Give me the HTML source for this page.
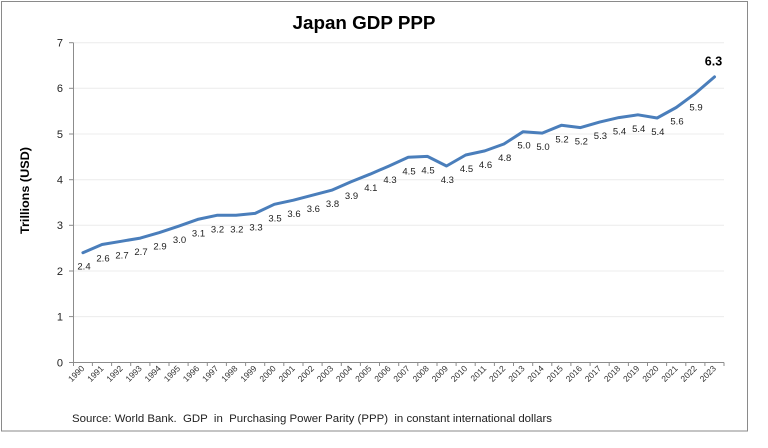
<!DOCTYPE html>
<html><head><meta charset="utf-8"><style>
html,body{margin:0;padding:0;background:#fff;}
svg{display:block;}
text{font-family:"Liberation Sans",sans-serif;}
</style></head><body>
<svg width="768" height="448" viewBox="0 0 768 448" xmlns="http://www.w3.org/2000/svg">
<rect x="0" y="0" width="768" height="448" fill="#fff"/>
<rect x="1.5" y="1.5" width="746" height="429.5" fill="#fff" stroke="#8a8a8a" stroke-width="1"/>
<text x="364" y="29" text-anchor="middle" font-size="18" font-weight="bold" fill="#000" textLength="143" lengthAdjust="spacingAndGlyphs">Japan GDP PPP</text>
<g stroke="#ececec" stroke-width="1">
<line x1="73.5" y1="42.7" x2="724" y2="42.7"/>
<line x1="73.5" y1="88.3" x2="724" y2="88.3"/>
<line x1="73.5" y1="134" x2="724" y2="134"/>
<line x1="73.5" y1="179.7" x2="724" y2="179.7"/>
<line x1="73.5" y1="225.3" x2="724" y2="225.3"/>
<line x1="73.5" y1="271" x2="724" y2="271"/>
<line x1="73.5" y1="316.6" x2="724" y2="316.6"/>
</g>
<g stroke="#8c8c8c" stroke-width="1">
<line x1="73.5" y1="42.7" x2="73.5" y2="362.5"/>
<line x1="73.5" y1="362.5" x2="724" y2="362.5"/>
<line x1="69" y1="42.7" x2="73.5" y2="42.7"/>
<line x1="69" y1="88.3" x2="73.5" y2="88.3"/>
<line x1="69" y1="134" x2="73.5" y2="134"/>
<line x1="69" y1="179.7" x2="73.5" y2="179.7"/>
<line x1="69" y1="225.3" x2="73.5" y2="225.3"/>
<line x1="69" y1="271" x2="73.5" y2="271"/>
<line x1="69" y1="316.6" x2="73.5" y2="316.6"/>
<line x1="69" y1="362.5" x2="73.5" y2="362.5"/>
</g>
<g stroke="#8c8c8c" stroke-width="1" id="xt"></g>
<g font-size="11" fill="#222" text-anchor="end">
<text x="63" y="46.5">7</text>
<text x="63" y="92">6</text>
<text x="63" y="137.8">5</text>
<text x="63" y="183.5">4</text>
<text x="63" y="229">3</text>
<text x="63" y="274.8">2</text>
<text x="63" y="320.4">1</text>
<text x="63" y="366.3">0</text>
</g>
<text transform="translate(29,190.5) rotate(-90)" text-anchor="middle" font-size="12" font-weight="bold" fill="#000" textLength="87" lengthAdjust="spacingAndGlyphs">Trillions (USD)</text>
<polyline fill="none" stroke="#4a7ebb" stroke-width="3" stroke-linejoin="round" stroke-linecap="round" points="82.9,252.7 102.0,244.5 121.2,241.3 140.3,238.1 159.4,232.6 178.6,226.2 197.7,219.4 216.9,215.3 236.0,215.3 255.1,213.4 274.3,204.3 293.4,200.2 312.5,195.2 331.7,190.2 350.8,181.9 370.0,174.2 389.1,166.0 408.2,157.3 427.4,156.4 446.5,166.0 465.7,155.0 484.8,150.9 503.9,144.0 523.1,131.7 542.2,133.1 561.4,125.3 580.5,127.6 599.6,122.1 618.8,117.6 637.9,114.8 657.1,118.0 676.2,107.5 695.3,93.4 714.5,76.9"/>
<g font-size="9.5" fill="#222" text-anchor="middle">
<text x="84" y="269.7">2.4</text>
<text x="103" y="261.5">2.6</text>
<text x="122" y="258.3">2.7</text>
<text x="141" y="255.1">2.7</text>
<text x="160" y="249.6">2.9</text>
<text x="179.5" y="243.2">3.0</text>
<text x="198.5" y="236.4">3.1</text>
<text x="217.5" y="232.3">3.2</text>
<text x="236.8" y="232.3">3.2</text>
<text x="256" y="230.4">3.3</text>
<text x="275" y="221.3">3.5</text>
<text x="294" y="217.2">3.6</text>
<text x="313.3" y="212.2">3.6</text>
<text x="332.5" y="207.2">3.8</text>
<text x="351.5" y="198.9">3.9</text>
<text x="370.8" y="191.2">4.1</text>
<text x="390" y="183">4.3</text>
<text x="409" y="174.3">4.5</text>
<text x="428" y="173.4">4.5</text>
<text x="447.3" y="183">4.3</text>
<text x="466.5" y="172">4.5</text>
<text x="485.5" y="167.9">4.6</text>
<text x="504.7" y="161">4.8</text>
<text x="524" y="148.7">5.0</text>
<text x="543" y="150.1">5.0</text>
<text x="562" y="142.3">5.2</text>
<text x="581.3" y="144.6">5.2</text>
<text x="600.4" y="139.1">5.3</text>
<text x="619.5" y="134.6">5.4</text>
<text x="638.7" y="131.8">5.4</text>
<text x="657.8" y="135">5.4</text>
<text x="677" y="124.5">5.6</text>
<text x="696" y="110.4">5.9</text>
</g>
<text x="713.5" y="65.5" text-anchor="middle" font-size="12.5" font-weight="bold" fill="#000">6.3</text>
<g font-size="8.5" fill="#333" text-anchor="end">
<text transform="translate(85,369) rotate(-45)">1990</text>
<text transform="translate(104.1,369) rotate(-45)">1991</text>
<text transform="translate(123.3,369) rotate(-45)">1992</text>
<text transform="translate(142.4,369) rotate(-45)">1993</text>
<text transform="translate(161.5,369) rotate(-45)">1994</text>
<text transform="translate(180.7,369) rotate(-45)">1995</text>
<text transform="translate(199.8,369) rotate(-45)">1996</text>
<text transform="translate(219,369) rotate(-45)">1997</text>
<text transform="translate(238.1,369) rotate(-45)">1998</text>
<text transform="translate(257.2,369) rotate(-45)">1999</text>
<text transform="translate(276.4,369) rotate(-45)">2000</text>
<text transform="translate(295.5,369) rotate(-45)">2001</text>
<text transform="translate(314.6,369) rotate(-45)">2002</text>
<text transform="translate(333.8,369) rotate(-45)">2003</text>
<text transform="translate(352.9,369) rotate(-45)">2004</text>
<text transform="translate(372.1,369) rotate(-45)">2005</text>
<text transform="translate(391.2,369) rotate(-45)">2006</text>
<text transform="translate(410.3,369) rotate(-45)">2007</text>
<text transform="translate(429.5,369) rotate(-45)">2008</text>
<text transform="translate(448.6,369) rotate(-45)">2009</text>
<text transform="translate(467.8,369) rotate(-45)">2010</text>
<text transform="translate(486.9,369) rotate(-45)">2011</text>
<text transform="translate(506,369) rotate(-45)">2012</text>
<text transform="translate(525.2,369) rotate(-45)">2013</text>
<text transform="translate(544.3,369) rotate(-45)">2014</text>
<text transform="translate(563.5,369) rotate(-45)">2015</text>
<text transform="translate(582.6,369) rotate(-45)">2016</text>
<text transform="translate(601.7,369) rotate(-45)">2017</text>
<text transform="translate(620.9,369) rotate(-45)">2018</text>
<text transform="translate(640,369) rotate(-45)">2019</text>
<text transform="translate(659.2,369) rotate(-45)">2020</text>
<text transform="translate(678.3,369) rotate(-45)">2021</text>
<text transform="translate(697.4,369) rotate(-45)">2022</text>
<text transform="translate(716.6,369) rotate(-45)">2023</text>
</g>
<g stroke="#8c8c8c" stroke-width="1">
<line x1="73.5" y1="362.5" x2="73.5" y2="366"/>
<line x1="92.4" y1="362.5" x2="92.4" y2="366"/>
<line x1="111.6" y1="362.5" x2="111.6" y2="366"/>
<line x1="130.7" y1="362.5" x2="130.7" y2="366"/>
<line x1="149.9" y1="362.5" x2="149.9" y2="366"/>
<line x1="169" y1="362.5" x2="169" y2="366"/>
<line x1="188.1" y1="362.5" x2="188.1" y2="366"/>
<line x1="207.3" y1="362.5" x2="207.3" y2="366"/>
<line x1="226.4" y1="362.5" x2="226.4" y2="366"/>
<line x1="245.6" y1="362.5" x2="245.6" y2="366"/>
<line x1="264.7" y1="362.5" x2="264.7" y2="366"/>
<line x1="283.8" y1="362.5" x2="283.8" y2="366"/>
<line x1="303" y1="362.5" x2="303" y2="366"/>
<line x1="322.1" y1="362.5" x2="322.1" y2="366"/>
<line x1="341.3" y1="362.5" x2="341.3" y2="366"/>
<line x1="360.4" y1="362.5" x2="360.4" y2="366"/>
<line x1="379.5" y1="362.5" x2="379.5" y2="366"/>
<line x1="398.7" y1="362.5" x2="398.7" y2="366"/>
<line x1="417.8" y1="362.5" x2="417.8" y2="366"/>
<line x1="437" y1="362.5" x2="437" y2="366"/>
<line x1="456.1" y1="362.5" x2="456.1" y2="366"/>
<line x1="475.2" y1="362.5" x2="475.2" y2="366"/>
<line x1="494.4" y1="362.5" x2="494.4" y2="366"/>
<line x1="513.5" y1="362.5" x2="513.5" y2="366"/>
<line x1="532.7" y1="362.5" x2="532.7" y2="366"/>
<line x1="551.8" y1="362.5" x2="551.8" y2="366"/>
<line x1="570.9" y1="362.5" x2="570.9" y2="366"/>
<line x1="590.1" y1="362.5" x2="590.1" y2="366"/>
<line x1="609.2" y1="362.5" x2="609.2" y2="366"/>
<line x1="628.4" y1="362.5" x2="628.4" y2="366"/>
<line x1="647.5" y1="362.5" x2="647.5" y2="366"/>
<line x1="666.6" y1="362.5" x2="666.6" y2="366"/>
<line x1="685.8" y1="362.5" x2="685.8" y2="366"/>
<line x1="704.9" y1="362.5" x2="704.9" y2="366"/>
<line x1="724" y1="362.5" x2="724" y2="366"/>
</g>
<text x="72" y="422" font-size="11" fill="#222" textLength="480" lengthAdjust="spacingAndGlyphs" xml:space="preserve">Source: World Bank.  GDP  in  Purchasing Power Parity (PPP)  in constant international dollars</text>
</svg>
</body></html>
